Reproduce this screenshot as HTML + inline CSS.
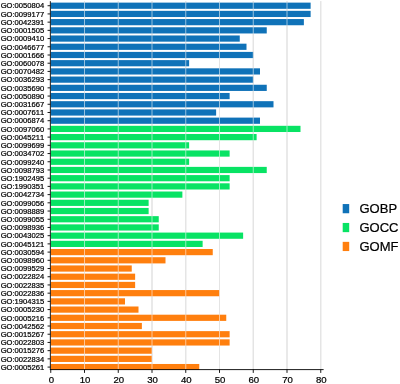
<!DOCTYPE html>
<html><head><meta charset="utf-8"><title>GO enrichment</title>
<style>
html,body{margin:0;padding:0;background:#fff;}
body{width:400px;height:384px;overflow:hidden;}
svg{display:block;}
text{font-family:"Liberation Sans",sans-serif;fill:#000;stroke:#000;stroke-width:0.22px;font-kerning:none;}
.yl{font-size:7.6px;text-anchor:end;}
.xl{font-size:9.6px;text-anchor:middle;}
.lg{font-size:13px;}
</style></head><body>
<svg width="400" height="384" viewBox="0 0 400 384">
<rect width="400" height="384" fill="#fff"/>

<line x1="84.50" y1="1.2" x2="84.50" y2="369.6" stroke="#b4b4b4" stroke-width="0.8"/>
<line x1="118.25" y1="1.2" x2="118.25" y2="369.6" stroke="#b4b4b4" stroke-width="0.8"/>
<line x1="152.00" y1="1.2" x2="152.00" y2="369.6" stroke="#b4b4b4" stroke-width="0.8"/>
<line x1="185.75" y1="1.2" x2="185.75" y2="369.6" stroke="#b4b4b4" stroke-width="0.8"/>
<line x1="219.50" y1="1.2" x2="219.50" y2="369.6" stroke="#b4b4b4" stroke-width="0.8"/>
<line x1="253.25" y1="1.2" x2="253.25" y2="369.6" stroke="#b4b4b4" stroke-width="0.8"/>
<line x1="287.00" y1="1.2" x2="287.00" y2="369.6" stroke="#b4b4b4" stroke-width="0.8"/>
<line x1="320.75" y1="1.2" x2="320.75" y2="369.6" stroke="#b4b4b4" stroke-width="0.8"/>
<rect x="50.75" y="2.62" width="259.88" height="6.20" fill="#0F72B8"/>
<rect x="50.75" y="10.83" width="259.88" height="6.20" fill="#0F72B8"/>
<rect x="50.75" y="19.05" width="253.12" height="6.20" fill="#0F72B8"/>
<rect x="50.75" y="27.26" width="216.00" height="6.20" fill="#0F72B8"/>
<rect x="50.75" y="35.47" width="189.00" height="6.20" fill="#0F72B8"/>
<rect x="50.75" y="43.68" width="195.75" height="6.20" fill="#0F72B8"/>
<rect x="50.75" y="51.90" width="202.50" height="6.20" fill="#0F72B8"/>
<rect x="50.75" y="60.11" width="138.38" height="6.20" fill="#0F72B8"/>
<rect x="50.75" y="68.32" width="209.25" height="6.20" fill="#0F72B8"/>
<rect x="50.75" y="76.53" width="202.50" height="6.20" fill="#0F72B8"/>
<rect x="50.75" y="84.75" width="216.00" height="6.20" fill="#0F72B8"/>
<rect x="50.75" y="92.96" width="178.88" height="6.20" fill="#0F72B8"/>
<rect x="50.75" y="101.17" width="222.75" height="6.20" fill="#0F72B8"/>
<rect x="50.75" y="109.39" width="165.38" height="6.20" fill="#0F72B8"/>
<rect x="50.75" y="117.60" width="209.25" height="6.20" fill="#0F72B8"/>
<rect x="50.75" y="125.81" width="249.75" height="6.20" fill="#08E364"/>
<rect x="50.75" y="134.02" width="205.88" height="6.20" fill="#08E364"/>
<rect x="50.75" y="142.24" width="138.38" height="6.20" fill="#08E364"/>
<rect x="50.75" y="150.45" width="178.88" height="6.20" fill="#08E364"/>
<rect x="50.75" y="158.66" width="138.38" height="6.20" fill="#08E364"/>
<rect x="50.75" y="166.87" width="216.00" height="6.20" fill="#08E364"/>
<rect x="50.75" y="175.09" width="178.88" height="6.20" fill="#08E364"/>
<rect x="50.75" y="183.30" width="178.88" height="6.20" fill="#08E364"/>
<rect x="50.75" y="191.51" width="131.62" height="6.20" fill="#08E364"/>
<rect x="50.75" y="199.72" width="97.88" height="6.20" fill="#08E364"/>
<rect x="50.75" y="207.94" width="97.88" height="6.20" fill="#08E364"/>
<rect x="50.75" y="216.15" width="108.00" height="6.20" fill="#08E364"/>
<rect x="50.75" y="224.36" width="108.00" height="6.20" fill="#08E364"/>
<rect x="50.75" y="232.58" width="192.38" height="6.20" fill="#08E364"/>
<rect x="50.75" y="240.79" width="151.88" height="6.20" fill="#08E364"/>
<rect x="50.75" y="249.00" width="162.00" height="6.20" fill="#FF7F0E"/>
<rect x="50.75" y="257.21" width="114.75" height="6.20" fill="#FF7F0E"/>
<rect x="50.75" y="265.43" width="81.00" height="6.20" fill="#FF7F0E"/>
<rect x="50.75" y="273.64" width="84.38" height="6.20" fill="#FF7F0E"/>
<rect x="50.75" y="281.85" width="84.38" height="6.20" fill="#FF7F0E"/>
<rect x="50.75" y="290.06" width="168.75" height="6.20" fill="#FF7F0E"/>
<rect x="50.75" y="298.28" width="74.25" height="6.20" fill="#FF7F0E"/>
<rect x="50.75" y="306.49" width="87.75" height="6.20" fill="#FF7F0E"/>
<rect x="50.75" y="314.70" width="175.50" height="6.20" fill="#FF7F0E"/>
<rect x="50.75" y="322.92" width="91.12" height="6.20" fill="#FF7F0E"/>
<rect x="50.75" y="331.13" width="178.88" height="6.20" fill="#FF7F0E"/>
<rect x="50.75" y="339.34" width="178.88" height="6.20" fill="#FF7F0E"/>
<rect x="50.75" y="347.55" width="101.25" height="6.20" fill="#FF7F0E"/>
<rect x="50.75" y="355.77" width="101.25" height="6.20" fill="#FF7F0E"/>
<rect x="50.75" y="363.98" width="148.50" height="5.92" fill="#FF7F0E"/>
<line x1="84.50" y1="1.2" x2="84.50" y2="369.6" stroke="#ffffff" stroke-opacity="0.7" stroke-width="0.8"/>
<line x1="118.25" y1="1.2" x2="118.25" y2="369.6" stroke="#ffffff" stroke-opacity="0.7" stroke-width="0.8"/>
<line x1="152.00" y1="1.2" x2="152.00" y2="369.6" stroke="#ffffff" stroke-opacity="0.7" stroke-width="0.8"/>
<line x1="185.75" y1="1.2" x2="185.75" y2="369.6" stroke="#ffffff" stroke-opacity="0.7" stroke-width="0.8"/>
<line x1="219.50" y1="1.2" x2="219.50" y2="369.6" stroke="#ffffff" stroke-opacity="0.7" stroke-width="0.8"/>
<line x1="253.25" y1="1.2" x2="253.25" y2="369.6" stroke="#ffffff" stroke-opacity="0.7" stroke-width="0.8"/>
<line x1="287.00" y1="1.2" x2="287.00" y2="369.6" stroke="#ffffff" stroke-opacity="0.7" stroke-width="0.8"/>
<line x1="320.75" y1="1.2" x2="320.75" y2="369.6" stroke="#ffffff" stroke-opacity="0.7" stroke-width="0.8"/>
<line x1="50.35" y1="1.2" x2="50.35" y2="370.0" stroke="#000" stroke-width="0.9"/>
<line x1="49.95" y1="369.6" x2="323.62" y2="369.6" stroke="#000" stroke-width="0.9"/>
<line x1="47.55" y1="5.72" x2="50.35" y2="5.72" stroke="#000" stroke-width="0.9"/>
<text class="yl" x="44.15" y="8.47">GO:0050804</text>
<line x1="47.55" y1="13.93" x2="50.35" y2="13.93" stroke="#000" stroke-width="0.9"/>
<text class="yl" x="44.15" y="16.68">GO:0099177</text>
<line x1="47.55" y1="22.15" x2="50.35" y2="22.15" stroke="#000" stroke-width="0.9"/>
<text class="yl" x="44.15" y="24.90">GO:0042391</text>
<line x1="47.55" y1="30.36" x2="50.35" y2="30.36" stroke="#000" stroke-width="0.9"/>
<text class="yl" x="44.15" y="33.11">GO:0001505</text>
<line x1="47.55" y1="38.57" x2="50.35" y2="38.57" stroke="#000" stroke-width="0.9"/>
<text class="yl" x="44.15" y="41.32">GO:0009410</text>
<line x1="47.55" y1="46.78" x2="50.35" y2="46.78" stroke="#000" stroke-width="0.9"/>
<text class="yl" x="44.15" y="49.53">GO:0046677</text>
<line x1="47.55" y1="55.00" x2="50.35" y2="55.00" stroke="#000" stroke-width="0.9"/>
<text class="yl" x="44.15" y="57.75">GO:0001666</text>
<line x1="47.55" y1="63.21" x2="50.35" y2="63.21" stroke="#000" stroke-width="0.9"/>
<text class="yl" x="44.15" y="65.96">GO:0060078</text>
<line x1="47.55" y1="71.42" x2="50.35" y2="71.42" stroke="#000" stroke-width="0.9"/>
<text class="yl" x="44.15" y="74.17">GO:0070482</text>
<line x1="47.55" y1="79.63" x2="50.35" y2="79.63" stroke="#000" stroke-width="0.9"/>
<text class="yl" x="44.15" y="82.38">GO:0036293</text>
<line x1="47.55" y1="87.85" x2="50.35" y2="87.85" stroke="#000" stroke-width="0.9"/>
<text class="yl" x="44.15" y="90.60">GO:0035690</text>
<line x1="47.55" y1="96.06" x2="50.35" y2="96.06" stroke="#000" stroke-width="0.9"/>
<text class="yl" x="44.15" y="98.81">GO:0050890</text>
<line x1="47.55" y1="104.27" x2="50.35" y2="104.27" stroke="#000" stroke-width="0.9"/>
<text class="yl" x="44.15" y="107.02">GO:0031667</text>
<line x1="47.55" y1="112.49" x2="50.35" y2="112.49" stroke="#000" stroke-width="0.9"/>
<text class="yl" x="44.15" y="115.24">GO:0007611</text>
<line x1="47.55" y1="120.70" x2="50.35" y2="120.70" stroke="#000" stroke-width="0.9"/>
<text class="yl" x="44.15" y="123.45">GO:0006874</text>
<line x1="47.55" y1="128.91" x2="50.35" y2="128.91" stroke="#000" stroke-width="0.9"/>
<text class="yl" x="44.15" y="131.66">GO:0097060</text>
<line x1="47.55" y1="137.12" x2="50.35" y2="137.12" stroke="#000" stroke-width="0.9"/>
<text class="yl" x="44.15" y="139.87">GO:0045211</text>
<line x1="47.55" y1="145.34" x2="50.35" y2="145.34" stroke="#000" stroke-width="0.9"/>
<text class="yl" x="44.15" y="148.09">GO:0099699</text>
<line x1="47.55" y1="153.55" x2="50.35" y2="153.55" stroke="#000" stroke-width="0.9"/>
<text class="yl" x="44.15" y="156.30">GO:0034702</text>
<line x1="47.55" y1="161.76" x2="50.35" y2="161.76" stroke="#000" stroke-width="0.9"/>
<text class="yl" x="44.15" y="164.51">GO:0099240</text>
<line x1="47.55" y1="169.97" x2="50.35" y2="169.97" stroke="#000" stroke-width="0.9"/>
<text class="yl" x="44.15" y="172.72">GO:0098793</text>
<line x1="47.55" y1="178.19" x2="50.35" y2="178.19" stroke="#000" stroke-width="0.9"/>
<text class="yl" x="44.15" y="180.94">GO:1902495</text>
<line x1="47.55" y1="186.40" x2="50.35" y2="186.40" stroke="#000" stroke-width="0.9"/>
<text class="yl" x="44.15" y="189.15">GO:1990351</text>
<line x1="47.55" y1="194.61" x2="50.35" y2="194.61" stroke="#000" stroke-width="0.9"/>
<text class="yl" x="44.15" y="197.36">GO:0042734</text>
<line x1="47.55" y1="202.82" x2="50.35" y2="202.82" stroke="#000" stroke-width="0.9"/>
<text class="yl" x="44.15" y="205.57">GO:0099056</text>
<line x1="47.55" y1="211.04" x2="50.35" y2="211.04" stroke="#000" stroke-width="0.9"/>
<text class="yl" x="44.15" y="213.79">GO:0098889</text>
<line x1="47.55" y1="219.25" x2="50.35" y2="219.25" stroke="#000" stroke-width="0.9"/>
<text class="yl" x="44.15" y="222.00">GO:0099055</text>
<line x1="47.55" y1="227.46" x2="50.35" y2="227.46" stroke="#000" stroke-width="0.9"/>
<text class="yl" x="44.15" y="230.21">GO:0098936</text>
<line x1="47.55" y1="235.68" x2="50.35" y2="235.68" stroke="#000" stroke-width="0.9"/>
<text class="yl" x="44.15" y="238.43">GO:0043025</text>
<line x1="47.55" y1="243.89" x2="50.35" y2="243.89" stroke="#000" stroke-width="0.9"/>
<text class="yl" x="44.15" y="246.64">GO:0045121</text>
<line x1="47.55" y1="252.10" x2="50.35" y2="252.10" stroke="#000" stroke-width="0.9"/>
<text class="yl" x="44.15" y="254.85">GO:0030594</text>
<line x1="47.55" y1="260.31" x2="50.35" y2="260.31" stroke="#000" stroke-width="0.9"/>
<text class="yl" x="44.15" y="263.06">GO:0098960</text>
<line x1="47.55" y1="268.53" x2="50.35" y2="268.53" stroke="#000" stroke-width="0.9"/>
<text class="yl" x="44.15" y="271.28">GO:0099529</text>
<line x1="47.55" y1="276.74" x2="50.35" y2="276.74" stroke="#000" stroke-width="0.9"/>
<text class="yl" x="44.15" y="279.49">GO:0022824</text>
<line x1="47.55" y1="284.95" x2="50.35" y2="284.95" stroke="#000" stroke-width="0.9"/>
<text class="yl" x="44.15" y="287.70">GO:0022835</text>
<line x1="47.55" y1="293.16" x2="50.35" y2="293.16" stroke="#000" stroke-width="0.9"/>
<text class="yl" x="44.15" y="295.91">GO:0022836</text>
<line x1="47.55" y1="301.38" x2="50.35" y2="301.38" stroke="#000" stroke-width="0.9"/>
<text class="yl" x="44.15" y="304.13">GO:1904315</text>
<line x1="47.55" y1="309.59" x2="50.35" y2="309.59" stroke="#000" stroke-width="0.9"/>
<text class="yl" x="44.15" y="312.34">GO:0005230</text>
<line x1="47.55" y1="317.80" x2="50.35" y2="317.80" stroke="#000" stroke-width="0.9"/>
<text class="yl" x="44.15" y="320.55">GO:0005216</text>
<line x1="47.55" y1="326.02" x2="50.35" y2="326.02" stroke="#000" stroke-width="0.9"/>
<text class="yl" x="44.15" y="328.77">GO:0042562</text>
<line x1="47.55" y1="334.23" x2="50.35" y2="334.23" stroke="#000" stroke-width="0.9"/>
<text class="yl" x="44.15" y="336.98">GO:0015267</text>
<line x1="47.55" y1="342.44" x2="50.35" y2="342.44" stroke="#000" stroke-width="0.9"/>
<text class="yl" x="44.15" y="345.19">GO:0022803</text>
<line x1="47.55" y1="350.65" x2="50.35" y2="350.65" stroke="#000" stroke-width="0.9"/>
<text class="yl" x="44.15" y="353.40">GO:0015276</text>
<line x1="47.55" y1="358.87" x2="50.35" y2="358.87" stroke="#000" stroke-width="0.9"/>
<text class="yl" x="44.15" y="361.62">GO:0022834</text>
<line x1="47.55" y1="367.08" x2="50.35" y2="367.08" stroke="#000" stroke-width="0.9"/>
<text class="yl" x="44.15" y="369.83">GO:0005261</text>
<line x1="50.75" y1="369.6" x2="50.75" y2="372.90000000000003" stroke="#000" stroke-width="0.9"/>
<text class="xl" x="51.35" y="383.2">0</text>
<line x1="84.50" y1="369.6" x2="84.50" y2="372.90000000000003" stroke="#000" stroke-width="0.9"/>
<text class="xl" x="85.10" y="383.2">10</text>
<line x1="118.25" y1="369.6" x2="118.25" y2="372.90000000000003" stroke="#000" stroke-width="0.9"/>
<text class="xl" x="118.85" y="383.2">20</text>
<line x1="152.00" y1="369.6" x2="152.00" y2="372.90000000000003" stroke="#000" stroke-width="0.9"/>
<text class="xl" x="152.60" y="383.2">30</text>
<line x1="185.75" y1="369.6" x2="185.75" y2="372.90000000000003" stroke="#000" stroke-width="0.9"/>
<text class="xl" x="186.35" y="383.2">40</text>
<line x1="219.50" y1="369.6" x2="219.50" y2="372.90000000000003" stroke="#000" stroke-width="0.9"/>
<text class="xl" x="220.10" y="383.2">50</text>
<line x1="253.25" y1="369.6" x2="253.25" y2="372.90000000000003" stroke="#000" stroke-width="0.9"/>
<text class="xl" x="253.85" y="383.2">60</text>
<line x1="287.00" y1="369.6" x2="287.00" y2="372.90000000000003" stroke="#000" stroke-width="0.9"/>
<text class="xl" x="287.60" y="383.2">70</text>
<line x1="320.75" y1="369.6" x2="320.75" y2="372.90000000000003" stroke="#000" stroke-width="0.9"/>
<text class="xl" x="321.35" y="383.2">80</text>
<rect x="342.7" y="204.05" width="6.5" height="9.2" fill="#0F72B8"/>
<text class="lg" x="359.5" y="213.35">GOBP</text>
<rect x="342.7" y="222.95" width="6.5" height="9.2" fill="#08E364"/>
<text class="lg" x="359.5" y="232.25">GOCC</text>
<rect x="342.7" y="241.85" width="6.5" height="9.2" fill="#FF7F0E"/>
<text class="lg" x="359.5" y="251.15">GOMF</text>
</svg></body></html>
